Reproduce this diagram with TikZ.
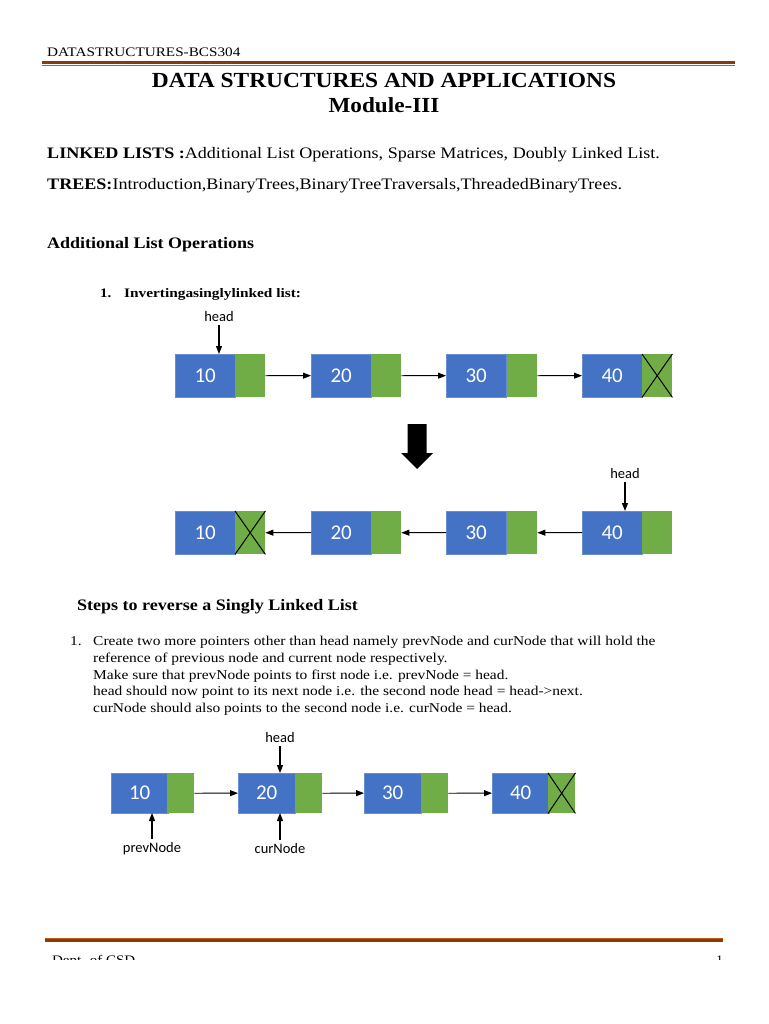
\documentclass[tikz,border=0pt]{standalone}
\usepackage{fontspec}
\usepackage{graphicx}
\setmainfont{Liberation Serif}
\newfontfamily\carlitofont{Carlito}
\usetikzlibrary{arrows.meta}
\definecolor{nblue}{HTML}{4472C4}
\definecolor{ngreen}{HTML}{70AD47}
\definecolor{rulebrown}{HTML}{843C0C}
\definecolor{rulelight}{HTML}{C55A11}
\newcommand{\hsc}[2]{\scalebox{#1}[1]{#2}}
\tikzset{
  bpart/.style={rectangle, fill=nblue, draw=nblue!80!white, line width=0.3pt, minimum width=60pt, minimum height=43pt, anchor=north west, inner sep=0pt, text=white, font=\carlitofont\fontsize{21}{21}\selectfont},
  gpart/.style={rectangle, fill=ngreen, minimum width=30pt, minimum height=43pt, anchor=north west, inner sep=0pt},
  bpart3/.style={bpart, minimum width=57pt, minimum height=40pt},
  gpart3/.style={gpart, minimum width=27pt, minimum height=40pt},
  arr/.style={-{Triangle[length=8pt,width=6pt]}, line width=0.9pt, black},
  ptr/.style={-{Triangle[length=8pt,width=6pt]}, line width=1.3pt, black},
  lbl/.style={font=\carlitofont\fontsize{14.5}{15}\selectfont, inner sep=0pt},
  body/.style={anchor=base west, inner sep=0pt, font=\fontsize{13.5}{16}\selectfont},
  cross/.style={line width=1pt, black}
}
\begin{document}
\begin{tikzpicture}[x=1pt,y=-1pt]
\useasboundingbox[fill=white] (0,0) rectangle (768,1024);

% header
\node[anchor=base west, inner sep=0pt, font=\fontsize{13}{15}\selectfont] (hdr) at (47,57) {\hsc{1.17}{DATASTRUCTURES-BCS304}};
\fill[rulebrown] (42,61.5) rectangle (735,64.5);
\fill[rulelight] (42,65.3) rectangle (735,66.3);

\node[anchor=base, inner sep=0pt, font=\bfseries\fontsize{21.5}{24}\selectfont] (title) at (384,88) {\hsc{1.09}{DATA STRUCTURES AND APPLICATIONS}};
\node[anchor=base, inner sep=0pt, font=\bfseries\fontsize{21.5}{24}\selectfont] (module) at (384,113) {\hsc{1.08}{Module-III}};

\node[anchor=base west, inner sep=0pt, font=\fontsize{16}{19}\selectfont] (ll) at (47,159) {\hsc{1.13}{\textbf{LINKED LISTS :}Additional List Operations, Sparse Matrices, Doubly Linked List.}};
\node[anchor=base west, inner sep=0pt, font=\fontsize{16}{19}\selectfont] (tr) at (47,190) {\hsc{1.13}{\textbf{TREES:}Introduction,BinaryTrees,BinaryTreeTraversals,ThreadedBinaryTrees.}};

\node[anchor=base west, inner sep=0pt, font=\bfseries\fontsize{16}{19}\selectfont] (alo) at (47,248) {\hsc{1.125}{Additional List Operations}};
\node[anchor=base west, inner sep=0pt, font=\bfseries\fontsize{13}{15}\selectfont] (inv1) at (100,297) {\hsc{1.15}{1.}};
\node[anchor=base west, inner sep=0pt, font=\bfseries\fontsize{13}{15}\selectfont] (inv) at (124,297) {\hsc{1.18}{Invertingasinglylinked list:}};

% diagram 1
\node[bpart] (a1) at (175,354) {10};
\node[gpart] (ag1) at (235,354) {};
\node[bpart] (a2) at (311,354) {20};
\node[gpart] (ag2) at (371,354) {};
\node[bpart] (a3) at (446,354) {30};
\node[gpart] (ag3) at (507,354) {};
\node[bpart] (a4) at (582,354) {40};
\node[gpart] (ag4) at (642,354) {};
\draw[cross] (ag4.north west) -- (ag4.south east);
\draw[cross] (ag4.north east) -- (ag4.south west);
\draw[arr] (ag1.east) -- (a2.west);
\draw[arr] (ag2.east) -- (a3.west);
\draw[arr] (ag3.east) -- (a4.west);
\node[lbl] (ahead) at (219,317) {head};
\coordinate (atip) at (219,354);
\draw[ptr] (ahead.south) ++(0,3) -- (atip);

% big arrow
\fill[black] (407.5,424) -- (426.5,424) -- (426.5,453) -- (433,453) -- (417,469) -- (401,453) -- (407.5,453) -- cycle;

% diagram 2
\node[bpart] (c1) at (175,511) {10};
\node[gpart] (cg1) at (235,511) {};
\node[bpart] (c2) at (311,511) {20};
\node[gpart] (cg2) at (371,511) {};
\node[bpart] (c3) at (446,511) {30};
\node[gpart] (cg3) at (507,511) {};
\node[bpart] (c4) at (582,511) {40};
\node[gpart] (cg4) at (642,511) {};
\draw[cross] (cg1.north west) -- (cg1.south east);
\draw[cross] (cg1.north east) -- (cg1.south west);
\draw[arr] (c2.west) -- (cg1.east);
\draw[arr] (c3.west) -- (cg2.east);
\draw[arr] (c4.west) -- (cg3.east);
\node[lbl] (chead) at (625,474) {head};
\coordinate (ctip) at (625,511);
\draw[ptr] (chead.south) ++(0,3) -- (ctip);

% steps text
\node[anchor=base west, inner sep=0pt, font=\bfseries\fontsize{16}{19}\selectfont] (steps) at (77,610) {\hsc{1.125}{Steps to reverse a Singly Linked List}};
\node[body] (s0) at (70,645) {\hsc{1.14}{1.}};
\node[body] (s1) at (93,645) {\hsc{1.145}{Create two more pointers other than head namely prevNode and curNode that will hold the}};
\node[body] (s2) at (93,662) {\hsc{1.145}{reference of previous node and current node respectively.}};
\node[body] (s3) at (93,679) {\hsc{1.145}{Make sure that prevNode points to first node i.e. prevNode = head.}};
\node[body] (s4) at (93,695) {\hsc{1.145}{head should now point to its next node i.e. the second node head = head->next.}};
\node[body] (s5) at (93,712) {\hsc{1.145}{curNode should also points to the second node i.e. curNode = head.}};

% diagram 3
\node[bpart3] (d1) at (111,773) {10};
\node[gpart3] (dg1) at (167,773) {};
\node[bpart3] (d2) at (238,773) {20};
\node[gpart3] (dg2) at (295,773) {};
\node[bpart3] (d3) at (364,773) {30};
\node[gpart3] (dg3) at (421,773) {};
\node[bpart3] (d4) at (492,773) {40};
\node[gpart3] (dg4) at (548,773) {};
\draw[cross] (dg4.north west) -- (dg4.south east);
\draw[cross] (dg4.north east) -- (dg4.south west);
\draw[arr] (dg1.east) -- (d2.west);
\draw[arr] (dg2.east) -- (d3.west);
\draw[arr] (dg3.east) -- (d4.west);
\node[lbl] (dhead) at (280,738) {head};
\coordinate (dtip) at (280,773);
\draw[ptr] (dhead.south) ++(0,3) -- (dtip);
\node[lbl] (prev) at (152,849) {prevNode};
\coordinate (ptip) at (152,813);
\draw[ptr] (prev.north) ++(0,-4) -- (ptip);
\node[lbl] (cur) at (280,849) {curNode};
\coordinate (cutip) at (280,813);
\draw[ptr] (cur.north) ++(0,-4) -- (cutip);

% footer
\fill[rulelight] (45,937.5) rectangle (723,938.5);
\fill[rulebrown] (45,939.3) rectangle (723,942.3);
\begin{scope}
\clip (0,945) rectangle (768,959);
\node[anchor=base west, inner sep=0pt, font=\fontsize{13}{15}\selectfont] (dept) at (52,964) {\hsc{1.15}{Dept. of CSD}};
\node[anchor=base east, inner sep=0pt, font=\fontsize{13}{15}\selectfont] (pg) at (723,964) {1};
\end{scope}
\end{tikzpicture}
\end{document}
